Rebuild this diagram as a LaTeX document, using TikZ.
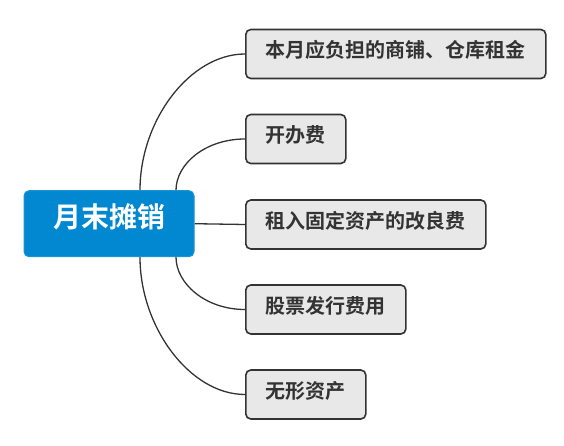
\documentclass[tikz,border=0pt]{standalone}
\usepackage{fontspec}
\usetikzlibrary{backgrounds}
\newfontfamily\cjkb{Noto Sans CJK SC Bold}
\definecolor{rootblue}{HTML}{0288D1}
\definecolor{boxgrey}{HTML}{E8E8E8}
\definecolor{linegrey}{HTML}{333333}
\begin{document}
\begin{tikzpicture}[x=1pt,y=-1pt,
  rootbox/.style={rectangle, rounded corners=5pt, fill=rootblue, draw=rootblue!90!white, line width=1pt,
    minimum width=170pt, minimum height=66pt, inner sep=0pt, text=white,
    font=\cjkb\fontsize{28pt}{28pt}\selectfont, text height=0.8em, text depth=0pt},
  childbox/.style={rectangle, rounded corners=5pt, fill=boxgrey, draw=linegrey, line width=1.6pt,
    minimum height=49pt, inner xsep=20pt, inner ysep=0pt, text=linegrey,
    font=\cjkb\fontsize{20pt}{20pt}\selectfont, text height=0.8em, text depth=0pt, anchor=west},
  link/.style={draw=linegrey, line width=1.3pt}]
\useasboundingbox (0,0) rectangle (564,446);
\node[rootbox] (r) at (109,223.7) {月末摊销};
\node[childbox] (c1) at (245,54) {本月应负担的商铺、仓库租金};
\node[childbox] (c2) at (245,139) {开办费};
\node[childbox] (c3) at (245,224.5) {租入固定资产的改良费};
\node[childbox] (c4) at (245,309.5) {股票发行费用};
\node[childbox] (c5) at (245,394.5) {无形资产};
\coordinate (t1) at ([xshift=31pt]r.north);
\coordinate (t2) at ([xshift=67pt]r.north);
\coordinate (b1) at ([xshift=31pt]r.south);
\coordinate (b2) at ([xshift=67pt]r.south);
\begin{scope}[on background layer]
\path[link] (t1) .. controls +(0,-70) and +(-55,0) .. (c1.west);
\path[link] (t2) .. controls +(0,-26) and +(-40,0) .. (c2.west);
\path[link] (r.east) -- (c3.west);
\path[link] (b2) .. controls +(0,26) and +(-40,0) .. (c4.west);
\path[link] (b1) .. controls +(0,70) and +(-55,0) .. (c5.west);
\end{scope}
\end{tikzpicture}
\end{document}
